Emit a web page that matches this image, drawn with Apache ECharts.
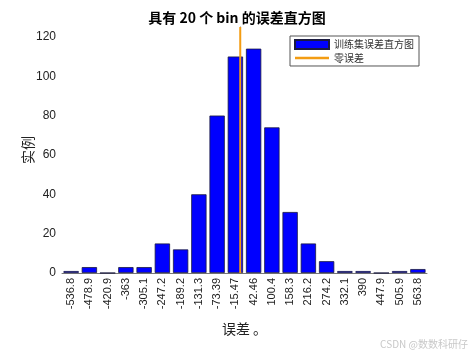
<!DOCTYPE html>
<html>
<head>
<meta charset="utf-8">
<script src="https://cdn.jsdelivr.net/npm/echarts@6/dist/echarts.min.js"></script>
<style>
  html, body { margin: 0; padding: 0; background: #fff; }
  #chart { width: 474px; height: 355px; }
</style>
</head>
<body>
<div id="chart"></div>
<script>
// bin centers (x labels) and counts
var binCenters = ['-536.8', '-478.9', '-420.9', '-363', '-305.1', '-247.2', '-189.2', '-131.3', '-73.39', '-15.47',
  '42.46', '100.4', '158.3', '216.2', '274.2', '332.1', '390', '447.9', '505.9', '563.8'];
var counts = [1, 3, 0, 3, 3, 15, 12, 40, 80, 110, 114, 74, 31, 15, 6, 1, 1, 0, 1, 2];
var yTicks = [0, 20, 40, 60, 80, 100, 120];
var zeroLine = [[0, 0], [0, 125]];
var binEdges = [-565.77, 592.77];

var chart = echarts.init(document.getElementById('chart'));
var option = {
  animation: false,
  title: {
    text: '具有 20 个 bin 的误差直方图',
    left: 'center',
    top: 6,
    textStyle: { color: '#000', fontSize: 14, fontWeight: 'bold', fontFamily: '"Noto Sans CJK SC", sans-serif' }
  },
  legend: {
    right: 55,
    top: 36,
    orient: 'vertical',
    itemGap: 3,
    itemWidth: 34,
    itemHeight: 9,
    padding: [3, 5, 3, 4],
    borderColor: '#555',
    borderWidth: 1,
    backgroundColor: '#fff',
    textStyle: { color: '#333', fontSize: 10, fontFamily: '"Noto Sans CJK SC", sans-serif' },
    data: [
      { name: '训练集误差直方图', icon: 'rect' },
      { name: '零误差', icon: 'path://M0,0 L34,0 L34,2.5 L0,2.5 Z' }
    ]
  },
  grid: { left: 62, right: 47, top: 27, bottom: 82 },
  xAxis: [
    {
      type: 'category',
      data: binCenters,
      name: '误差 。',
      nameLocation: 'middle',
      nameGap: 49,
      nameTextStyle: { color: '#222', fontSize: 14, fontFamily: '"Noto Sans CJK SC", sans-serif' },
      axisLine: { lineStyle: { color: '#777' } },
      axisTick: { show: false },
      axisLabel: { rotate: 90, color: '#222', fontSize: 11, fontFamily: 'Liberation Sans, Arial', interval: 0, margin: 5 }
    },
    {
      type: 'value',
      min: binEdges[0],
      max: binEdges[1],
      show: false
    }
  ],
  yAxis: {
    type: 'value',
    min: 0,
    max: 125,
    interval: 20,
    name: '实例',
    nameLocation: 'middle',
    nameGap: 27,
    nameMoveOverlap: false,
    nameRotate: 90,
    nameTextStyle: { color: '#222', fontSize: 14, fontFamily: '"Noto Sans CJK SC", sans-serif' },
    axisLine: { show: true, lineStyle: { color: '#777' } },
    axisTick: { show: false },
    splitLine: { show: false },
    axisLabel: {
      color: '#222', fontSize: 12, fontFamily: 'Liberation Sans, Arial', margin: 6,
      formatter: function (v) { return yTicks.indexOf(v) >= 0 ? v : ''; }
    }
  },
  series: [
    {
      name: '训练集误差直方图',
      type: 'bar',
      data: counts,
      barCategoryGap: '16%',
      itemStyle: { color: '#0000ff', borderColor: '#1a1a40', borderWidth: 0.8 }
    },
    {
      name: '零误差',
      type: 'line',
      xAxisIndex: 1,
      data: zeroLine,
      symbol: 'none',
      lineStyle: { color: '#f39c12', width: 2 },
      itemStyle: { color: '#f39c12' },
      z: 5
    }
  ],
  graphic: [
    {
      type: 'text',
      right: 6,
      bottom: 6,
      style: { text: 'CSDN @数数科研仔', fill: '#c8c8c8', fontSize: 10, fontFamily: '"Noto Sans CJK SC", sans-serif' }
    }
  ]
};
chart.setOption(option);
window.addEventListener('resize', function () { chart.resize(); });
</script>
</body>
</html>
